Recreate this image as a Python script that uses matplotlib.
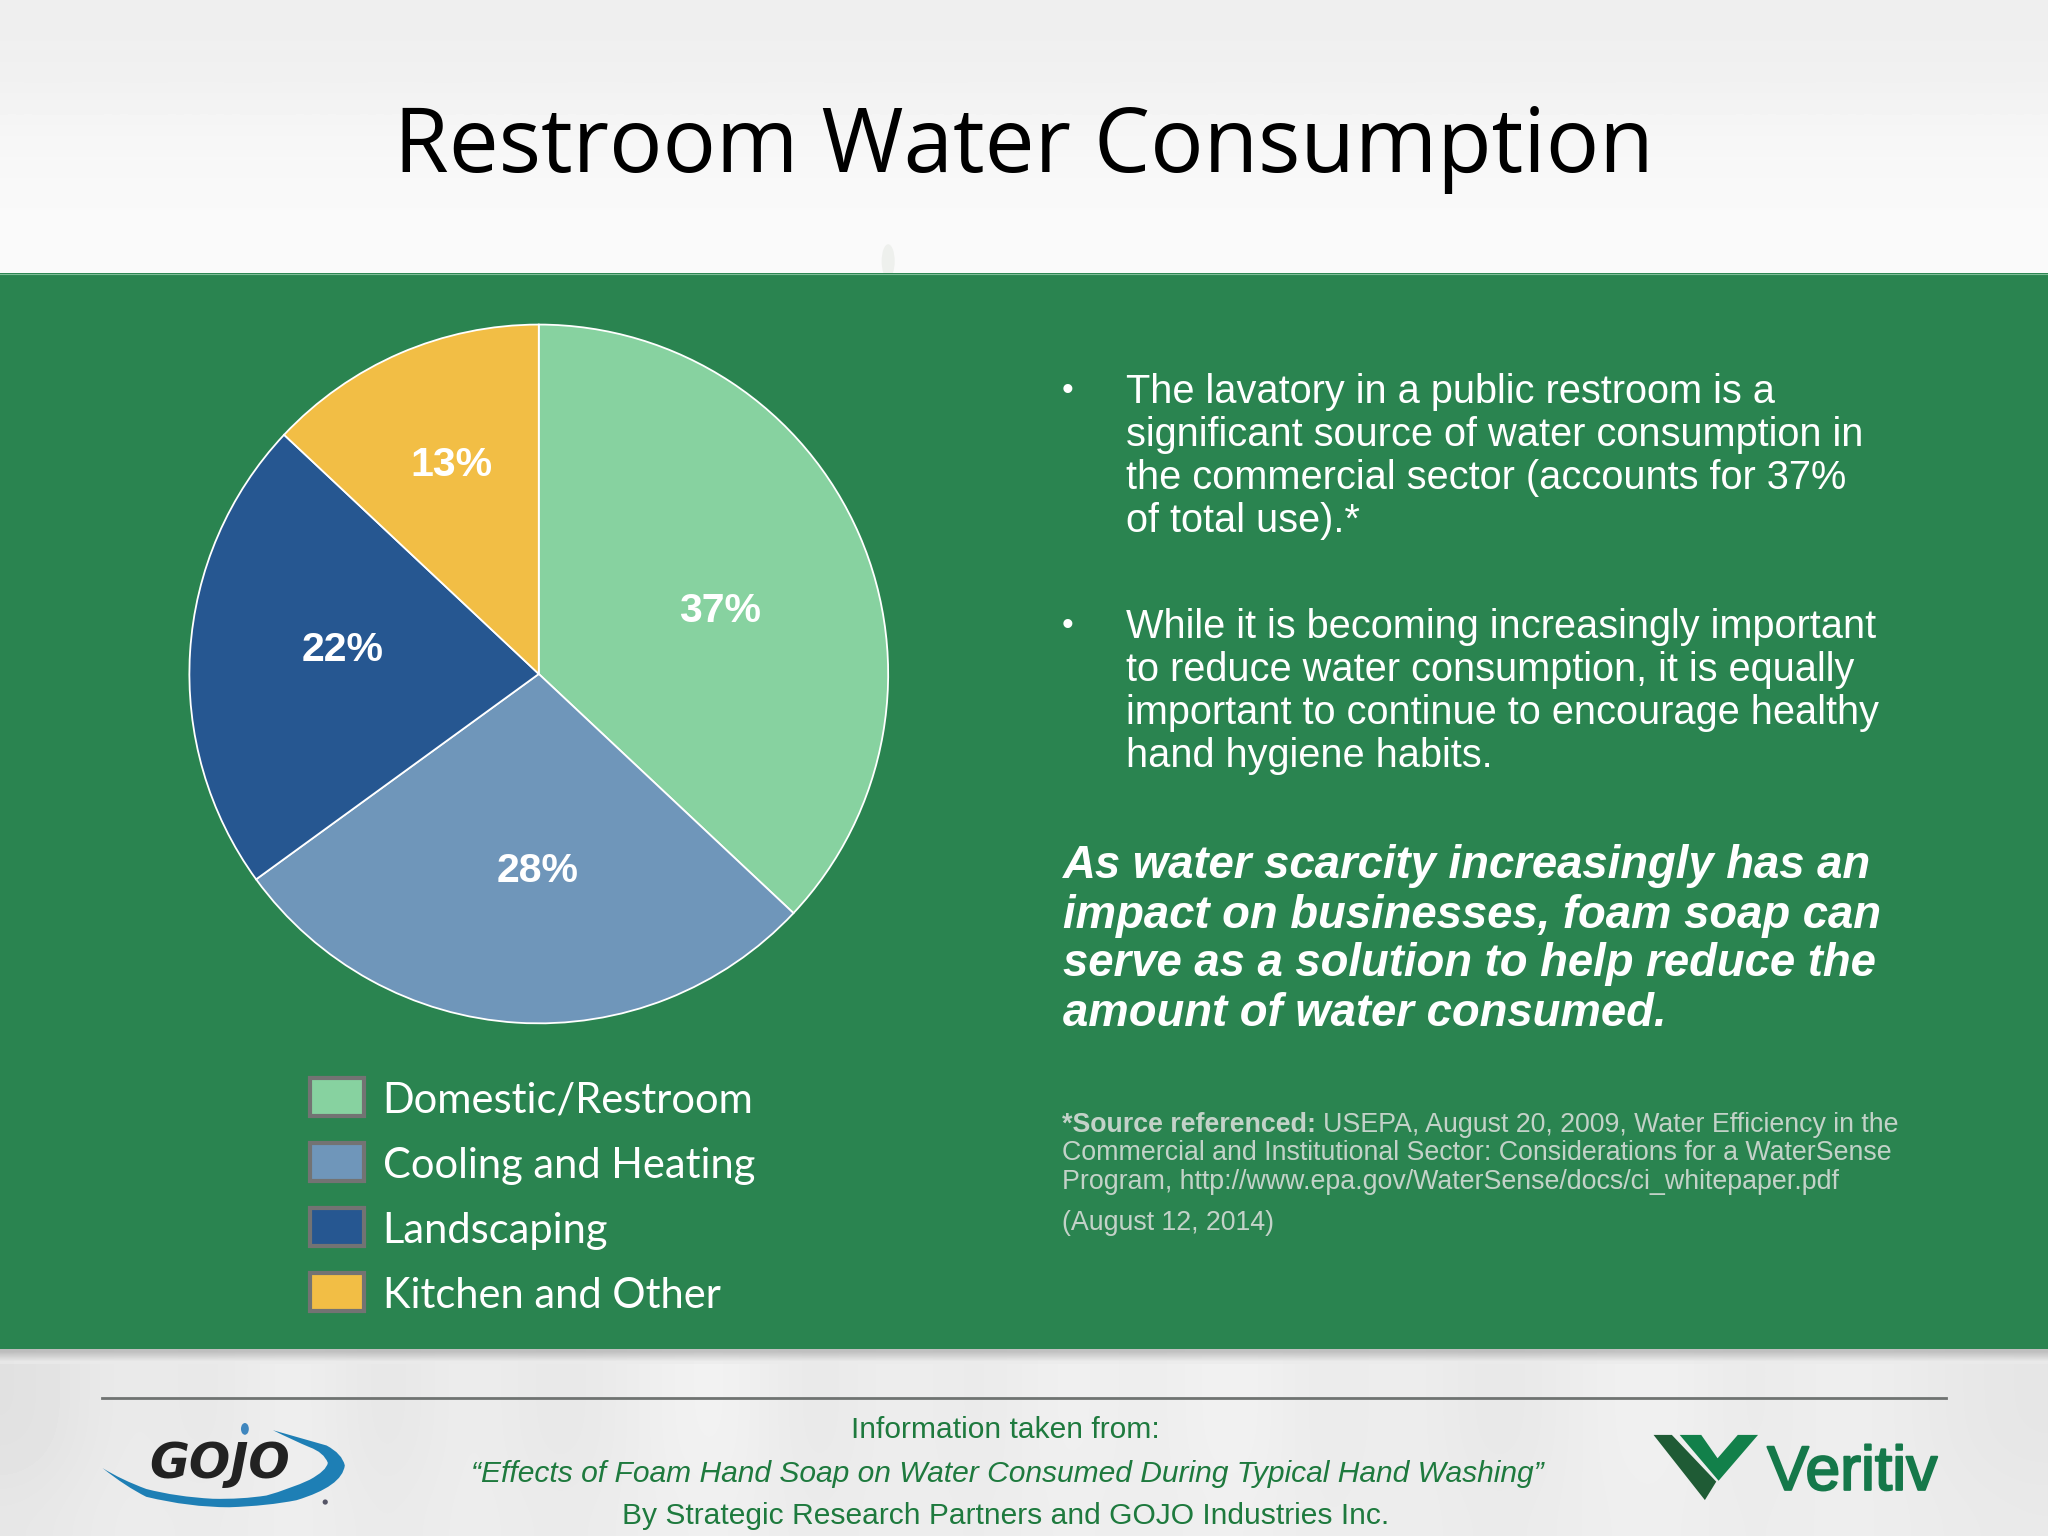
import numpy as np
import matplotlib
matplotlib.use("Agg")
import matplotlib.pyplot as plt
import matplotlib.patheffects as pe
from matplotlib.patches import Rectangle, Ellipse, Polygon, PathPatch
from matplotlib.path import Path

categories = ["Domestic/Restroom", "Cooling and Heating", "Landscaping", "Kitchen and Other"]
values = [37, 28, 22, 13]
colors = ["#87D2A0", "#6F96BA", "#265791", "#F2BE45"]
label_pos = [(551, 468), (412, 667), (262, 498), (346, 356)]

title = "Restroom Water Consumption"
bullets = [
    ["The lavatory in a public restroom is a", "significant source of water consumption in",
     "the commercial sector (accounts for 37%", "of total use).*"],
    ["While it is becoming increasingly important", "to reduce water consumption, it is equally",
     "important to continue to encourage healthy", "hand hygiene habits."],
]
callout = ["As water scarcity increasingly has an", "impact on businesses, foam soap can",
           "serve as a solution to help reduce the", "amount of water consumed."]

W, H = 1568, 1176
fig = plt.figure(figsize=(20.48, 15.36), dpi=100)
bg = fig.add_axes([0, 0, 1, 1], zorder=1)
top = fig.add_axes([0, 0, 1, 1], zorder=3)
top.set_xlim(0, W); top.set_ylim(H, 0); top.axis("off"); top.patch.set_visible(False)
SANS = ["Liberation Sans", "DejaVu Sans"]
CAL = ["Open Sans", "DejaVu Sans"]
LEG = ["Lato", "DejaVu Sans"]

def T(x, y, s, size, color="white", family=SANS, ha="left", va="center", **k):
    return top.text(x, y, s, fontsize=size, color=color, family=family, ha=ha, va=va, **k)

# backdrop bands
grad = np.array([[0.935], [0.945], [0.965], [0.975], [0.98]])
bg.imshow(grad, extent=(0, W, 209, 0), cmap="gray", vmin=0, vmax=1, aspect="auto", zorder=0,
          interpolation="bilinear")
streak_cols = np.array([0.88, 0.93, 0.90, 0.95, 0.89, 0.94, 0.90, 0.93, 0.96, 0.90, 0.94, 0.91,
                        0.95, 0.92, 0.96, 0.91, 0.94, 0.90, 0.93, 0.95, 0.91, 0.94, 0.92, 0.90])
foot = np.vstack([streak_cols, streak_cols * 1.0, (streak_cols + 0.93) / 2])
bg.imshow(foot, extent=(0, W, 1176, 1033), cmap="gray", vmin=0, vmax=1, aspect="auto", zorder=0,
          interpolation="bicubic")
shadow = np.array([[0.68], [0.80], [0.92]])
bg.imshow(shadow, extent=(0, W, 1044, 1033), cmap="gray", vmin=0, vmax=1, aspect="auto", zorder=0.5,
          alpha=0.7, interpolation="bilinear")
bg.set_xlim(0, W); bg.set_ylim(H, 0); bg.axis("off")
bg.add_patch(Ellipse((680, 200), 10, 26, color="#EEF0ED", lw=0, zorder=0.6))
bg.add_patch(Rectangle((0, 209), W, 824, color="#2A8450", lw=0, zorder=1))
bg.plot([0, W], [209.5, 209.5], color="#7DBD97", lw=0.8, zorder=1.1)
bg.plot([78, 1490], [1070, 1070], color="#6F7371", lw=2, zorder=2)

T(784, 114, title, 64, color="black", family=CAL, ha="center")

# pie
cx, cy, r = 412.5, 516, 267.5
ax = fig.add_axes([(cx - r) / W, 1 - (cy + r) / H, 2 * r / W, 2 * r / H], zorder=2)
ax.pie(values, colors=colors, startangle=90, counterclock=False, radius=1,
       wedgeprops=dict(edgecolor="white", linewidth=1.3))
ax.set_xlim(-1, 1); ax.set_ylim(-1, 1)
ax.patch.set_visible(False)
for v, (x, y) in zip(values, label_pos):
    T(x, y, f"{v}%", 29.5, fontweight="bold", ha="center")

# legend
for i, name in enumerate(categories):
    y = 839.6 + i * 49.9
    top.add_patch(Rectangle((237.5, y - 14.5), 41, 29, facecolor=colors[i], edgecolor="#737373", lw=3))
    T(293, y + 3, name, 30, family=LEG)

# right text
ys = [[300, 333, 366, 399], [480, 513, 546, 579]]
for lines, yy in zip(bullets, ys):
    T(813, yy[0], "•", 24)
    for s, y in zip(lines, yy):
        T(862, y, s, 28.6)
for s, y in zip(callout, [663, 701, 738, 776]):
    T(814, y, s, 32.8, fontweight="bold", fontstyle="italic")

gray = "#C3D2C8"
T(813, 861, "*Source referenced:", 19.3, color=gray, fontweight="bold")
T(1013, 861, "USEPA, August 20, 2009, Water Efficiency in the", 19.3, color=gray)
T(813, 883, "Commercial and Institutional Sector: Considerations for a WaterSense", 19.3, color=gray)
T(813, 905, "Program, http://www.epa.gov/WaterSense/docs/ci_whitepaper.pdf", 19.3, color=gray)
T(813, 936, "(August 12, 2014)", 19.3, color=gray)

# footer
fc = "#1E7A3E"
T(770, 1095, "Information taken from:", 21.6, color=fc, ha="center")
T(771, 1128.5, "\u201cEffects of Foam Hand Soap on Water Consumed During Typical Hand Washing\u201d", 21.6,
  color=fc, ha="center", fontstyle="italic")
T(770, 1161, "By Strategic Research Partners and GOJO Industries Inc.", 21.6, color=fc, ha="center")

# GOJO logo
pts_o = [(78.5, 1124), (96, 1138), (112, 1146), (145, 1154), (175.5, 1154), (205, 1153), (227, 1148.6),
         (262, 1138), (264, 1122), (262, 1113), (250, 1106.7), (230, 1101), (209, 1095)]
pts_i = [(225, 1103), (237, 1108), (248, 1112), (251, 1120), (250, 1126), (237, 1133), (222, 1140),
         (204, 1145), (185, 1148), (163, 1147.5), (135, 1146), (112, 1140), (93, 1133), (78.5, 1124)]
all_pts = pts_o + pts_i
cc = [Path.MOVETO] + [Path.CURVE3] * (len(all_pts) - 1)
top.add_patch(PathPatch(Path(all_pts, cc), facecolor="#1E7FB5", edgecolor="none"))
T(168, 1121, "GOJO", 35, color="#222222", family=["DejaVu Sans"], ha="center", fontweight="bold", fontstyle="italic")
top.add_patch(Ellipse((187.5, 1094), 6, 9, facecolor="#3F86BE", edgecolor="none"))
top.add_patch(Ellipse((249, 1150), 4, 4, facecolor="#555566", edgecolor="none"))

# Veritiv logo
top.add_patch(Polygon([(1266, 1098.6), (1280, 1098.6), (1314, 1134.4), (1305.3, 1148.5)],
                      closed=True, facecolor="#1F5B35", edgecolor="none"))
top.add_patch(Polygon([(1286, 1098.6), (1302.5, 1098.6), (1315, 1116.5), (1330.5, 1098.6), (1346, 1098.6), (1315.8, 1133.7)],
                      closed=True, facecolor="#12804A", edgecolor="none"))
T(1353, 1128, "Veritiv", 45, color="#15784A", ha="left",
  path_effects=[pe.withStroke(linewidth=1.5, foreground="#15784A")])

fig.savefig("out.png", dpi=100)
